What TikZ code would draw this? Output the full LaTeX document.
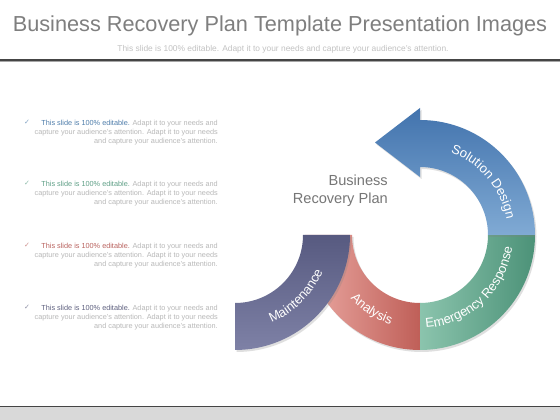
\documentclass[tikz,border=0pt]{standalone}
\usepackage{fontspec}
\setmainfont{Liberation Sans}
\newfontfamily\symfont{DejaVu Sans}
\usetikzlibrary{decorations.text,shadows}
\definecolor{blueA}{HTML}{4273AD}
\definecolor{blueB}{HTML}{80AAD4}
\definecolor{greenA}{HTML}{4C9278}
\definecolor{greenB}{HTML}{8BC4AD}
\definecolor{redA}{HTML}{BF5F58}
\definecolor{redB}{HTML}{EBA9A3}
\definecolor{purpA}{HTML}{575A80}
\definecolor{purpB}{HTML}{7E81A6}
\definecolor{headA}{HTML}{4E7DAA}
\definecolor{headB}{HTML}{5E9F86}
\definecolor{headC}{HTML}{B9625E}
\definecolor{headD}{HTML}{5E607F}
\definecolor{titlegray}{HTML}{7F7F7F}
\definecolor{subgray}{HTML}{C2C2C2}
\definecolor{bodygray}{HTML}{B8B8B8}
\definecolor{labelgray}{HTML}{767676}
\definecolor{rulegray}{HTML}{454545}
\definecolor{footgray}{HTML}{D9D9D9}
\newcommand{\adapt}{Adapt it to your needs and\\capture your audience's attention. Adapt it to your needs\\and capture your audience's attention.}

\begin{document}
\begin{tikzpicture}[x=1pt,y=1pt,
  seg/.style={drop shadow={opacity=.25,shadow xshift=1.5pt,shadow yshift=-2pt}},
  ringtxt/.style={decorate,decoration={text along path,text align=center,
      text={|\fontsize{13}{15}\selectfont\color{white}|#1}}},
  blurb/.style={anchor=north east,align=right,inner sep=0pt,
      font=\fontsize{7.3}{9}\selectfont,text=bodygray},
  chk/.style={anchor=base,inner sep=0pt,font=\symfont\fontsize{7}{8}\selectfont,text=#1!70!white}]
\useasboundingbox (0,0) rectangle (560,420);
\fill[white] (0,0) rectangle (560,420);
\fill[footgray] (0,0) rectangle (560,12.5);
\draw[line width=1.5pt,rulegray] (0,13.5) -- (560,13.5);
\draw[line width=3.2pt,gray!70] (0,359.5) -- (560,359.5);
\draw[line width=2pt,rulegray] (0,359.5) -- (560,359.5);

\node[anchor=base,text=titlegray,font=\fontsize{21.7}{25}\selectfont] (title) at (280,388)
  {Business Recovery Plan Template Presentation Images};
\node[anchor=base,text=subgray,font=\fontsize{8.4}{10}\selectfont] (subtitle) at (283,368)
  {This slide is 100\% editable. Adapt it to your needs and capture your audience's attention.};

\coordinate (C) at (420,185);
\coordinate (M) at (235,185);

\shade[seg,left color=redB,right color=redA] (C) ++(180:115) arc (180:270:115) -- ++(0,47) arc (270:180:68) -- cycle;
\shade[seg,left color=greenB,right color=greenA] (C) ++(270:115) arc (270:360:115) -- ++(-47,0) arc (360:270:68) -- cycle;
\shade[seg,top color=blueA,bottom color=blueB] (C) ++(0:115) arc (0:90:115) -- ++(0,12) -- ++(-45,-34.5) -- ++(45,-34.5) -- ++(0,10) arc (90:0:68) -- cycle;
\shade[seg,top color=purpA,bottom color=purpB] (M) ++(270:115) arc (270:360:115) -- ++(-47,0) arc (360:270:68) -- cycle;

\path[ringtxt=Solution Design] (C) ++(95:88) arc (95:-15:88);
\path[ringtxt=Emergency Response] (C) ++(253:93) arc (253:373:93);
\path[ringtxt=Analysis] (C) ++(197:94) arc (197:277:94);
\path[ringtxt=Maintenance] (M) ++(260:95) arc (260:370:95);

\node[anchor=north east,align=right,inner sep=0pt,text=labelgray,font=\fontsize{14.6}{18}\selectfont] (plan) at (388,245)
  {Business\\Recovery Plan};

\node[chk=headA] (chkA) at (27,295) {✓};
\node[chk=headB] (chkB) at (27,234) {✓};
\node[chk=headC] (chkC) at (27,172) {✓};
\node[chk=headD] (chkD) at (27,110) {✓};
\node[blurb] (txtA) at (218,300) {{\color{headA}This slide is 100\% editable.} \adapt};
\node[blurb] (txtB) at (218,239) {{\color{headB}This slide is 100\% editable.} \adapt};
\node[blurb] (txtC) at (218,177) {{\color{headC}This slide is 100\% editable.} \adapt};
\node[blurb] (txtD) at (218,115) {{\color{headD}This slide is 100\% editable.} \adapt};
\end{tikzpicture}
\end{document}
